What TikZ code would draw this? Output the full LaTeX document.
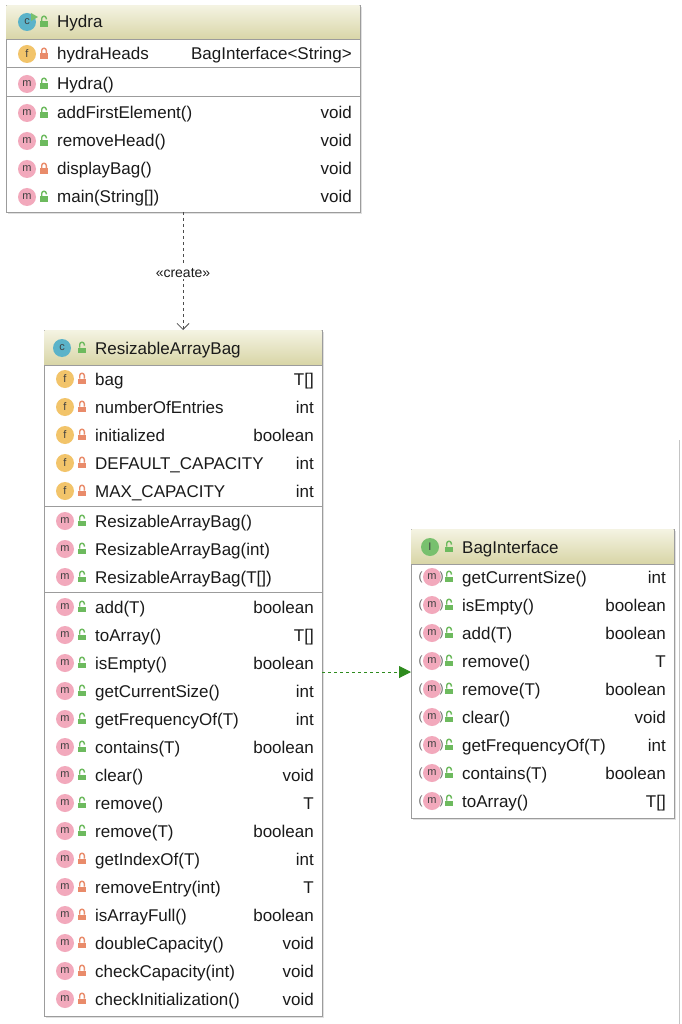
\documentclass[tikz,border=0pt]{standalone}
\usepackage{fontspec}
\setmainfont{Liberation Sans}
\usetikzlibrary{arrows.meta}
\definecolor{hdtop}{HTML}{F4F3E2}
\definecolor{hdbot}{HTML}{D8D5A6}
\definecolor{bordc}{HTML}{9C9C9C}
\definecolor{fcol}{HTML}{F2C46A}
\definecolor{mcol}{HTML}{F2A9BC}
\definecolor{ccol}{HTML}{5BB3C9}
\definecolor{icol}{HTML}{78C06E}
\definecolor{pubc}{HTML}{6DBA5E}
\definecolor{privc}{HTML}{E98B6A}
\definecolor{txtc}{HTML}{1A1A1A}
\definecolor{arrg}{HTML}{2E8B1E}
\tikzset{
 umlbox/.style={draw=bordc, line width=1pt, fill=white, inner sep=0pt, anchor=north west},
 hdr/.style={top color=hdtop, bottom color=hdbot, draw=none},
 sepl/.style={draw=bordc, line width=1pt},
 mtxt/.style={font=\fontsize{17}{19}\selectfont, text=txtc, inner sep=0pt, text height=12pt, text depth=0pt},
 ictxt/.style={font=\fontsize{11}{11}\selectfont, inner sep=0pt},
}
\newcommand\lockic[3]{% public lock
 \fill[#3] (#1-4,#2-0.5) rectangle (#1+4,#2+5);
 \draw[#3,line width=1.4pt] (#1-2.3,#2-0.5) -- (#1-2.3,#2-3.5) arc (180:360:2.3) -- (#1+2.3,#2-2.5);}
\newcommand\plock[3]{% private lock
 \fill[#3] (#1-4,#2-0.5) rectangle (#1+4,#2+5);
 \draw[#3,line width=1.4pt] (#1-2.3,#2-0.5) -- (#1-2.3,#2-3.5) arc (180:360:2.3) -- (#1+2.3,#2-0.5);}
\newcommand\icon[4]{% x y color letter
 \fill[#3] (#1,#2) circle (9);
 \node[ictxt,text=black!75] at (#1,#2) {#4};}
\newcommand\umlrow[8]{% x0 x1 y iconcol letter lock name type
 \icon{#1+21}{#3}{#4}{#5}
 #6{#1+38}{#3}{}
 \node[mtxt,anchor=west] at (#1+51,#3) {#7};
 \node[mtxt,anchor=east] at (#2-8,#3) {#8};}
\newcommand\pub[3]{\lockic{#1}{#2}{pubc}}
\newcommand\pri[3]{\plock{#1}{#2}{privc}}
\begin{document}
\begin{tikzpicture}[x=1pt,y=-1pt]
\useasboundingbox (0,0) rectangle (681,1024);
\draw[bordc!60,line width=1pt] (679,440) -- (679,1024);
% ---- Hydra
\fill[black!12] (8,7) rectangle (362,214);
\node[umlbox, minimum width=354pt, minimum height=207pt] (hydra) at (6,5) {};
\shade[hdr] (6.5,5.5) rectangle (359.5,40);
\draw[sepl] (6,40) -- (360,40);
\draw[sepl] (6,68) -- (360,68);
\draw[sepl] (6,97) -- (360,97);
\icon{27}{22}{ccol}{c}
\fill[icol] (31,13) -- (38,17) -- (31,21) -- cycle;
\pub{44}{22}{}
\node[mtxt,anchor=west] (hydratitle) at (57,22) {Hydra};
\umlrow{6}{360}{54}{fcol}{f}{\pri}{hydraHeads}{BagInterface<String>}
\umlrow{6}{360}{84}{mcol}{m}{\pub}{Hydra()}{}
\umlrow{6}{360}{113}{mcol}{m}{\pub}{addFirstElement()}{void}
\umlrow{6}{360}{141}{mcol}{m}{\pub}{removeHead()}{void}
\umlrow{6}{360}{169}{mcol}{m}{\pri}{displayBag()}{void}
\umlrow{6}{360}{197}{mcol}{m}{\pub}{main(String[])}{void}
% ---- ResizableArrayBag
\fill[black!12] (46,332) rectangle (324,1018);
\node[umlbox, minimum width=278pt, minimum height=686pt] (rab) at (44,330) {};
\shade[hdr] (44.5,330.5) rectangle (321.5,365);
\draw[sepl] (44,365) -- (322,365);
\draw[sepl] (44,506) -- (322,506);
\draw[sepl] (44,592) -- (322,592);
\icon{62}{348}{ccol}{c}
\pub{82}{348}{}
\node[mtxt,anchor=west] at (95,348) {ResizableArrayBag};
\umlrow{44}{322}{379}{fcol}{f}{\pri}{bag}{T[]}
\umlrow{44}{322}{407}{fcol}{f}{\pri}{numberOfEntries}{int}
\umlrow{44}{322}{435}{fcol}{f}{\pri}{initialized}{boolean}
\umlrow{44}{322}{463}{fcol}{f}{\pri}{DEFAULT\_CAPACITY}{int}
\umlrow{44}{322}{491}{fcol}{f}{\pri}{MAX\_CAPACITY}{int}
\umlrow{44}{322}{521}{mcol}{m}{\pub}{ResizableArrayBag()}{}
\umlrow{44}{322}{549}{mcol}{m}{\pub}{ResizableArrayBag(int)}{}
\umlrow{44}{322}{577}{mcol}{m}{\pub}{ResizableArrayBag(T[])}{}
\foreach \nm/\ty/\lk [count=\i from 0] in {add(T)/boolean/\pub, toArray()/T[]/\pub, isEmpty()/boolean/\pub, getCurrentSize()/int/\pub, getFrequencyOf(T)/int/\pub, contains(T)/boolean/\pub, clear()/void/\pub, remove()/T/\pub, remove(T)/boolean/\pub, getIndexOf(T)/int/\pri, removeEntry(int)/T/\pri, isArrayFull()/boolean/\pri, doubleCapacity()/void/\pri, checkCapacity(int)/void/\pri, checkInitialization()/void/\pri}{
 \umlrow{44}{322}{607+28*\i}{mcol}{m}{\lk}{\nm}{\ty}
}
% ---- BagInterface
\fill[black!12] (413,531) rectangle (676,820);
\node[umlbox, minimum width=263pt, minimum height=289pt] (bi) at (411,529) {};
\shade[hdr] (411.5,529.5) rectangle (673.5,564);
\draw[sepl] (411,564) -- (674,564);
\icon{430}{547}{icol}{I}
\pub{449}{547}{}
\node[mtxt,anchor=west] at (462,547) {BagInterface};
\foreach \nm/\ty [count=\i from 0] in {getCurrentSize()/int, isEmpty()/boolean, add(T)/boolean, remove()/T, remove(T)/boolean, clear()/void, getFrequencyOf(T)/int, contains(T)/boolean, toArray()/T[]}{
 \umlrow{411}{674}{577+28*\i}{mcol}{m}{\pub}{\nm}{\ty}
 \node[font=\fontsize{12}{12}\selectfont, text=black!60, inner sep=0pt] at (420.5,577+28*\i) {(};
 \node[font=\fontsize{12}{12}\selectfont, text=black!60, inner sep=0pt] at (441.5,577+28*\i) {)};
}
% ---- connectors
\coordinate (hb) at (183,212);
\coordinate (rt) at (183,330);
\draw[black!70, dashed, line width=0.8pt, -{Straight Barb[length=6pt,width=12pt]}] (hb) -- node[mtxt, fill=white, inner sep=2pt, font=\fontsize{14}{15}\selectfont] {«create»} (rt);
\coordinate (ra) at (322,672);
\coordinate (ba) at (411,672);
\draw[arrg, dashed, line width=1pt, -{Triangle[length=12pt,width=12pt]}] (ra) -- (ba);
\end{tikzpicture}
\end{document}
